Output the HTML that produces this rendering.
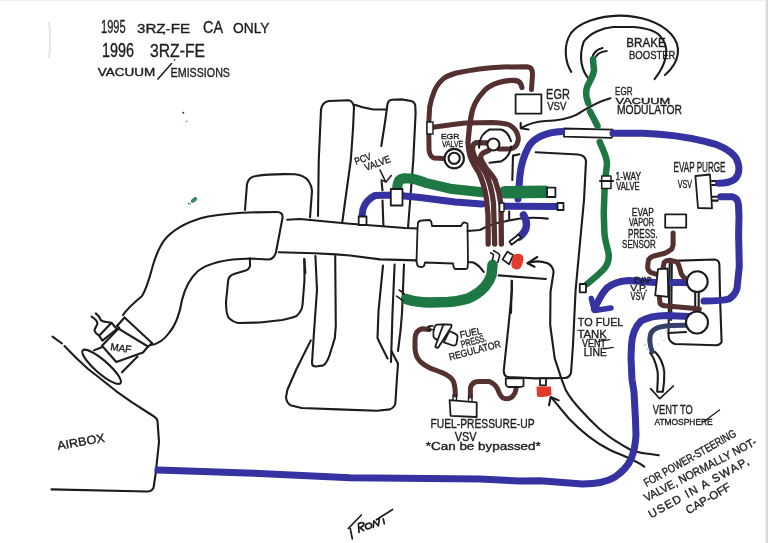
<!DOCTYPE html>
<html><head><meta charset="utf-8">
<style>
html,body{margin:0;padding:0;background:#fff;}
body{width:768px;height:543px;overflow:hidden;}
svg{display:block;}
text{font-family:"Liberation Sans",sans-serif;fill:#1c1c1c;stroke:#1c1c1c;stroke-width:0.35px;}
.k{fill:none;stroke:#1c1c1c;stroke-width:2.1;stroke-linecap:round;stroke-linejoin:round;}
.bl{fill:none;stroke:#3532a2;stroke-width:7;stroke-linecap:round;stroke-linejoin:round;}
.gr{fill:none;stroke:#1e7844;stroke-width:11;stroke-linecap:round;stroke-linejoin:round;}
.br{fill:none;stroke:#553030;stroke-width:5;stroke-linecap:round;stroke-linejoin:round;}
.wb{fill:#fff;stroke:#1c1c1c;stroke-width:1.8;stroke-linejoin:round;}
</style></head>
<body>
<svg width="768" height="543" viewBox="0 0 768 543">
<rect width="768" height="543" fill="#fff"/>
<!-- paper edges -->
<line x1="0" y1="0.5" x2="768" y2="0.5" stroke="#f0f0f0" stroke-width="1"/>
<rect x="765" y="0" width="1" height="543" fill="#f0f0f0"/><rect x="766" y="0" width="2" height="543" fill="#dadada"/>
<path d="M49,22 Q51,40 49,58" stroke="#e4e4e4" stroke-width="2" fill="none"/>

<g fill="#3a8a5a"><circle cx="164" cy="34" r="1"/><circle cx="174.6" cy="60" r="1"/><circle cx="186.8" cy="121.5" r="0.8"/><ellipse cx="194" cy="200" rx="3.6" ry="2" transform="rotate(-40 194 200)"/><circle cx="188.6" cy="203.5" r="0.9"/><circle cx="190.4" cy="204" r="0.8"/></g>
<circle cx="183.3" cy="112.7" r="1" fill="#333"/>
<!-- ========== BLACK OUTLINES ========== -->
<g id="black">
<!-- big curved intake -->
<path class="k" d="M123,315 C127,309 136,301 142,296 C147,288 150,276 153,265 C157,252 161,243 167,237 C177,227 192,220 208,216.5 C228,213 255,212 277,212 Q283,212 282.5,218 L276,252 Q274,259.5 268,259.5 L250,258.5 C228,259 208,263 198,271 C188,280 184,292 182,300 C180,312 176,325 169,333 C164,340 158,344 151,345"/>
<!-- step box below intake -->
<path class="k" d="M250,258.5 L250,266 Q249,270 244,271 L234,274 Q228,276 228,282 L226,302 Q226,317 230,319 Q233,322 238,323 L260,322.5 L282,320 Q292,318 296.5,316 Q302,311 302.5,305 L304.5,280 L304.3,259"/>
<!-- boot -->
<path class="k" d="M124.5,317.5 L152,343"/>
<path class="k" d="M124.5,317.5 L117.5,325.5"/>
<!-- MAF box -->
<path class="k" d="M102,345.8 L118.5,328.6 L148,346.5 L143,352.5 L116.3,362 Z"/>
<path class="k" d="M119.5,328.5 L117,325.5 M148.5,346.5 L152,343"/>
<!-- MAF neck -->
<path class="k" d="M91.6,316.6 C94,318 97,321 97.4,323.2 C97.5,325 95,328 94.5,330 C94.5,332 96,333.5 99.1,335.7 L102.4,340.6 M95.8,313.3 C98,315 100,317.5 100.7,319.9 C101.5,321 103,321.6 106.5,322 L111.5,322.8 L116.9,329 L102.4,340.6 M99.1,335.7 L111.5,322.8"/>
<!-- neck to ellipse -->
<path class="k" d="M94,350.4 L101.6,347.3 M122,372.3 L137.6,356.6"/>
<ellipse class="k" cx="101.6" cy="366.8" rx="25" ry="6.5" transform="rotate(41 101.6 366.8)"/>
<!-- airbox -->
<path class="k" d="M52.5,336.6 L62,343.5 M64.5,346 L76.5,358.2 L88.1,369 L99.7,378 L116.3,391.3 L132.8,402.9 L152.5,415.5 Q157,418 157.5,421 L159,442 L155.6,474 L153.5,488 Q151,492 147,491.5 L51.5,489.4"/>
<!-- left box above intake -->
<path class="k" d="M245,210 L246.9,185 Q248,177 256,176 C265,174.5 285,174 295,174.3 Q304,175 308.5,181 Q312,186 312,191 L310,217.3"/>
<!-- left pillar -->
<path class="k" d="M318,216 L318.75,160 L321,110 Q322,102 329,101 L348.4,100.2 Q353,101 354,107 L353,129 L350.8,160 L342.3,222"/>
<!-- top middle link -->
<path class="k" d="M354.7,104.8 L362.5,107.2 L373.4,109.5 L386.5,109.5"/>
<!-- right pillar -->
<path class="k" d="M381.3,146 L385.2,121 L387.5,104 Q388.5,100 392,99.8 L401.6,99.4 L411,101 Q415,102 415.3,106 L415.6,113.4 L413.3,160 L408,228"/>
<path class="k" d="M381.6,182 L382.5,190.4 M382.5,200.5 L383.4,225.4"/>
<!-- horizontal pipe -->
<path class="k" d="M287.3,219.8 L300,219 L347,223.5 L405,228 L418,228.5"/>
<path class="k" d="M278.8,252.2 L314,253.3 L336,254.4 L350,255.5 L380,259.4 L416.5,260.4"/>
<!-- throttle body -->
<path class="wb" d="M417.5,229 L418,222.5 Q419,220.5 422,220.5 L429,220 Q431,220 431.5,223 L432,226 L461,226 L462.5,223.5 Q463,222.5 465,222.5 L467.5,223.5 L468,262 L467.5,268 Q467,269 465,269 L455,269 Q453.5,268 453.5,266 L453,263.5 L425,262.5 L424,266 Q423.5,267 421,267 L419,266.7 Q417,266 417,263 L416.5,262 Z"/>
<path class="k" d="M467.5,231 L480,230 Q490,224 505.7,221.2 Q525,216 547.7,218.6"/>
<path class="k" d="M468,262.3 L472.5,262.3 Q478,264 483.8,272"/>
<path class="k" d="M509.2,211.6 L509.2,218.6"/>
<path class="k" d="M498.7,275.4 L545.9,279 M511.8,280.7 L511,313"/>
<!-- verticals below pipe -->
<path class="k" d="M304.3,259 L305.4,273"/>
<path class="k" d="M315.4,256 L317,290 L314,332 L312,363 Q312,366.5 316,366.5 L323.3,365.4 Q327,363 329.6,355 L334.8,338.3 L335.8,325.8 L335.2,256"/>
<path class="k" d="M383,265.6 L378.5,311 L377.5,338 L379.8,343 L387.6,358.6"/>
<path class="k" d="M394.6,264.6 L392.5,313 L391,362"/>
<path class="k" d="M404,264.6 L402,313 L400.6,330 L398,351"/>
<path class="k" d="M310.8,340.4 L296.5,369 L287.3,390 L286,397.7 Q287,404 291.25,405.5 L301.7,408 L338,409.4 L377,410.7 L390,409.4 Q395,407 395.4,403 L396.7,382 L398,363.8 L394,356 L391.5,351"/>
<!-- canister -->
<path class="k" d="M512.3,180 L513,155.6 L519.4,154.3 M535.6,152.3 L578,154.5 Q585,155 586,161 L584,200 L575.6,290 L573,345 L571,373 Q569,378 565,378 L536,378.4 L508,377 Q503.5,376 503.8,370 L508.4,326.8 L512,290 L511.8,280.7"/>
<path class="k" d="M527.6,263.2 Q537,259.5 547.7,263.2 Q553,266 553.6,272 L550.5,292 L550.2,325 L554.7,358.4 L561.3,378.3 L565.7,390 C570,398 576,405 582.4,411.8 C588,418 593,423 599.3,428.7 C605,433.5 610,437.5 616.3,441.4 C621,444.5 626,447.5 631,450 C638,452.5 644,453.5 650,454 L658.8,455.3"/>
<path class="k" d="M527.6,263.2 L537.2,257 M527.6,263.2 L534.5,266.7"/>
<!-- arrow to red blob -->
<path class="k" d="M644.3,466.6 C635,460 626,457 610,450 C590,440 575,425 568.4,418 L552.3,398.7 M550.7,397 L549,405.2 M550.7,397 L558.7,400.4"/>
<!-- EGR VSV box -->
<rect class="wb" x="515.6" y="94.4" width="25.8" height="19.2"/>
<!-- egr modulator pointer -->
<path class="k" d="M610.4,98.2 C600,101 590,106 576.7,114.6 C568,119 560,120.8 545,121 C535,121.5 528,124 520.7,128.2 M520.7,128.2 L520.7,123 M520.7,128.2 L528.5,129.5"/>
<!-- brake booster arcs -->
<path class="k" d="M571.25,71.9 C565,62 563,45 571,33 C580,22 600,16 619,15.6 C640,15.5 660,22 671,34 C682,46 680,62 665,75"/>
<path class="k" d="M590,80.2 C582,72 578,58 583.75,41.7 C590,33 602,28 613,27 L633.75,27 C645,28 656,31 660,36 C670,46 668,62 654.6,79.2"/>
<path class="k" d="M592,58.3 Q594,50 602.5,48 M594.5,59.3 Q597,52 606.7,51"/>
<!-- white tube on blue -->
<path class="wb" d="M564,128.5 L612.7,129.7 Q614,133.5 611.5,137.9 L564,136.7 Z"/>
<!-- EVAP purge VSV -->
<path class="wb" d="M695.4,176 L710,174.5 L712,208.3 L698,208 Z"/>
<path class="k" d="M712,181 L717.7,181 M712,185 L717.7,185 M712,196.7 L717.7,196.7 M712,200.6 L717.7,200.6"/>
<!-- EVAP vapor press sensor box -->
<rect class="wb" x="665.2" y="214.4" width="21" height="13.2"/>
<!-- canister 2 outline (right) -->
<path class="k" d="M671.8,260.9 L714.6,259.5 Q719.4,260 719.4,265 L720.1,300 L721.6,342 Q720,345 716,345.2 L675,344 Q668.5,342 668.5,335.3 L669.7,261.6"/>
<path class="k" d="M671.8,263 L671.2,320"/>
<path class="k" d="M695.2,293.3 L695.2,309 M698.7,293.3 L698.7,309"/>
<path class="k" d="M668.5,333 L686,332"/>
<!-- vent tube -->
<path class="k" d="M650.1,353 L655.2,352 C660,357 663.5,365 664.3,372 C664.5,380 664,385 662.8,391.8 L657.2,391.6 L657.5,385 C657.7,381.5 658.2,376 657.5,371 C656,364 653,356 650.1,353"/>
<path class="k" style="stroke-width:1.7" d="M650.6,388.6 L659.7,398.7 L673.4,386"/>
</g>

<!-- ========== BLUE ========== -->
<g id="blue">
<path class="bl" d="M362,216 L363,209 Q366,200 375,195.5 L394,195 L420,197.5 L455,202 L482,204"/>
<path class="bl" d="M505,206.3 L557.5,206.4"/>
<path class="bl" d="M561.7,131.5 C545,132.5 535,137 529,146 C524,155 521,165 520,175 L518,199"/>
<path class="bl" d="M613,133.3 L643,133.3 C665,134 685,136.5 706,141.7 C718,144 730,150 736,158 C740,166 740,174 735,179 C730,183 725,183.2 718.6,183.2"/>
<path class="bl" style="stroke-width:7.5" d="M523.5,215 C526,219 527,224 526,228 C525,232 523,234 519.5,237"/>
<path class="bl" d="M720.6,196.7 L732,196.7 Q738,198 738.5,205 L739,217 L738.6,235 L739.3,266.3 L737,288.4 Q735,295 729,299 C722,301 712,301 704,301"/>
<path class="bl" d="M687.3,282.5 L668.5,282.5 L655.3,282.5 L628.7,280.5 C620,281 613,283 607,288 C602,293 598,301 594.4,309"/>
<path class="bl" d="M591.3,298.5 L594.4,310.5 L611,308" style="stroke-width:5.5"/>
<path class="bl" d="M689,316.5 L666.3,315.4 C657,315.5 648,317 641,321 C635,327 632,335 631.5,345 L631,357.4 L632,379.5 L634,392 L635.5,420 L636,435 C635.5,445 634,452 631,459 C628,466 622,472 615,477 C607,482 595,484 582.4,484 L540,480.8 L520,481 L480,479 L350,477.8 L254,473.3 L157.8,470"/>
</g>

<!-- smudge -->
<path d="M685.2,325.2 L671.4,325.6 C665,326 660,326.5 656,328.5 C652,330.5 650.3,333 650,337 L649.8,341 C650,345 651,348.5 652.1,351.4" fill="none" stroke="#34406a" stroke-width="5" stroke-linecap="round"/>
<g fill="#5a6a9a" opacity="0.7"><circle cx="645" cy="345" r="0.8"/><circle cx="647" cy="349" r="0.7"/><circle cx="661" cy="336" r="0.6"/><circle cx="664" cy="340" r="0.6"/><circle cx="666" cy="331" r="0.7"/><circle cx="658" cy="344" r="0.5"/><circle cx="669" cy="328.5" r="0.8"/><circle cx="674" cy="329" r="0.6"/></g>
<!-- ========== GREEN ========== -->
<g id="green">
<path class="gr" style="stroke-width:10" d="M397,190 L397.5,185 Q398.5,179 404,178.3 L410,178.5 C416,179 420,181 426,183 L450,188.7 L482.5,192.2"/>
<path class="gr" style="stroke-width:12.5" d="M505,192.2 L545,191.8"/>
<path class="gr" style="stroke-width:6.5" d="M593,59.4 L594,70.8 C593,76 591,79 589,83 C586,88 585.5,92 586.5,97 L588.3,103.5 M590,111.5 L594,119 L597.5,126"/>
<path class="gr" style="stroke-width:6.5" d="M599.8,142 L604.8,154 C606,158 607,160 607,164 L604.8,183.3 L603.75,213 L604.4,233 C605,242 608,248 608.8,255.3 C609,262 607,266 603,270 C598,275 592,280 587,284"/>
<path class="gr" style="stroke-width:10.5" d="M492.5,265 L491.5,275 C490,280 488,283 485,286.5 C481,291 476,295 468,298.5 C460,301 455,301.5 448,302 L430,302.5 C420,302.5 414,301.5 406,299"/>
</g>

<!-- ========== BROWN ========== -->
<g id="brown">
<path class="br" d="M531.5,89.5 L532.5,74 Q532.5,67 527,66.8 L503,66.9 C490,67.5 470,70 456.25,73 C450,75 446,76.5 443.75,78.4 C438.5,83 436,87 434.4,91 C431.5,98 430.2,104 429.7,107 L428.7,124 L429,150 Q430,157 434,158 L444,158.5"/>
<path class="br" style="stroke-width:5.3" d="M521.9,87.5 Q521,81 515,80.5 C505,80 492,83 485,90 C477,98 472,108 471,117 L469.3,128.2 L468,142.6 C468.5,150 470,155.6 470,155.6 C472,162 476,168 479,173 C483,181 485,190 486.5,199 L488,215 L488.2,244"/>
<path class="br" style="stroke-width:5.3" d="M487.5,142.8 L476,142.6 Q472.5,144 472.5,149 C473,154 476,159.5 476.5,159.5 C480,165 483,168.6 485.5,173 C489,180 492,190 493.5,203 L494.7,244"/>
<path class="br" style="stroke-width:5.3" d="M489,150.4 L483,153 Q480.4,155 480.6,158.2 C482,162 484,165 486,168 C489,172 492,175 495,180 C498,188 500,196 501,205 L501.4,244"/>
<path class="br" d="M431,127.5 L440,126.3 C450,125 458,123.5 466,123 L492,122.4 Q503,123 507.7,124.3 C512,126 515.5,129.5 517,133 Q519,138 518,141 C517,146 514,148.5 510.3,149 L499,149"/>
<path class="br" d="M429,329.6 L422,328.8 C417,330 415,334 415,340 L415,349 C416,356 417,358 420.3,361.6 C425,366 428,367 431.3,368.7 C438,371 442,372.5 445.4,374.2 C450,377 452,379 453.2,381 C455,385 455.3,390 455.3,395"/>
<path class="br" d="M470.4,396 L470.4,388 Q472,381.5 478.75,381.5 L489.2,381.5 Q495,384 497.5,388.75 Q500,396 503,398 Q508,400 512,397 Q516,393 516.25,387"/>
<path class="br" d="M673.1,233 L673.1,245 L671.8,249.1 Q668,252 664.9,253.3 L653.8,256 Q648.5,258 648.3,261 L647.6,267.1 Q648,271 651,272.6 L658,274.7"/>
<path class="br" d="M662.8,269.2 L664.2,262.3 Q666,260.2 669.7,260.2 L675.9,261.6 Q678.5,263 679.4,267.1 L681.4,274 Q683,277 685.6,278.8 L688.3,281"/>
<path class="br" d="M659.3,296.1 L660,303 Q661,305.5 664.9,305.8 L681.4,307.2 L695.2,308.5 L699.4,309.2"/>
</g>

<!-- ========== WHITE COMPONENTS ON TOP ========== -->
<g id="parts">
<!-- brown connector at left loop -->
<rect class="wb" x="427" y="122" width="6" height="12" style="stroke-width:1.4"/>
<!-- egr valve small circle -->
<circle class="k" cx="454.2" cy="158.6" r="9.7" style="fill:#fff"/>
<circle class="k" cx="454.2" cy="158.3" r="5.6"/>
<!-- egr valve big -->
<path class="k" d="M479,147.8 C479,140 481,134 489.5,129.5 L501.2,129.5 C506,131 509,134 511,141.25 M511,146.5 C510.5,152 509,157 501.2,161.4 L489.5,162.7"/>
<circle class="k" cx="493.4" cy="144.5" r="6" style="fill:#fff"/>
<!-- pcv connector -->
<rect class="wb" x="390.8" y="189" width="11.7" height="16.5"/>
<!-- blue end box at pcv -->
<rect class="wb" x="358.7" y="216.5" width="7.8" height="8.5"/>
<!-- white connector on blue (between tubes) -->
<rect class="wb" x="499.6" y="203" width="4.4" height="8.6" style="stroke-width:1.4"/>
<!-- blue end box right -->
<rect class="wb" x="557.5" y="203" width="6" height="7"/>
<!-- green end box -->
<rect class="wb" x="547" y="187.7" width="8.4" height="9.3"/>
<!-- blue curved end connector -->
<path class="wb" d="M509.5,241.5 L518.5,234.5 L521,237.5 L511.5,244.8 Z"/>
<!-- 1-way valve -->
<rect class="wb" x="601.7" y="176" width="9.3" height="12.5" style="stroke-width:1.5"/>
<path class="k" d="M600,181 L613,181"/>
<!-- green connector at canister -->
<rect class="wb" x="579.8" y="284" width="6.2" height="8.3"/>
<path class="k" style="stroke-width:1.6" d="M399.2,290 L404.4,293.9 M396.6,296.1 L403,300.6"/>
<!-- claws -->
<path class="k" style="stroke-width:1.6" d="M490.6,252.8 L493.6,254.6 L492.4,260 M493.6,250.7 L498.4,253.4 Q500,255 499.6,256 L497.8,262.5"/>
<!-- small box near red -->
<path class="wb" d="M502.6,259.4 L507.4,251.6 L513.3,255.2 L509.1,264.2 Z"/>
<!-- red blob -->
<path d="M513,255.5 Q517,252.5 521.5,254.5 Q524.5,257 523,262 Q522,266 520,268.5 Q516,270.5 512.5,268 Q510.5,265 512,261 Z" fill="#e23a2c"/>
<!-- sensor small bits: evap vp vsv box -->
<path class="wb" d="M658,269.2 L667.6,268.5 L668.3,296.8 L655.2,295.4 Z"/>
<!-- circles right -->
<circle class="k" cx="697.3" cy="281.6" r="10.4" style="fill:#fff"/>
<circle class="k" cx="697" cy="322.5" r="11" style="fill:#fff"/>
<!-- canister bottom connectors -->
<path class="wb" d="M505.8,378.3 L523.5,378.3 L523.5,386 Q522,387 519,387 L508,387 Q505.8,386 505.8,384 Z"/>
<rect class="wb" x="540" y="378.3" width="6" height="7"/>
<path d="M536.5,386.5 L551,386.5 L551.5,395 Q545,398 537,396.5 Z" fill="#e23a2c"/>
<!-- FPU VSV box -->
<path class="wb" d="M449.6,400.2 L476.7,402.3 L476.7,417 L450.6,415.8 Z"/>
<path class="k" style="stroke-width:1.4" d="M453,395 L453,400 M456.5,395 L456.5,400 M468.5,396 L468.5,401 M472,396 L472,401"/>
<!-- fuel press regulator -->
<path class="wb" d="M437,324.6 L444,324.5 L440,339.6 Q437,340.5 435,338.5 L433.5,336.8 Q433,332 434,329 Q435,325 437,324.6 Z"/>
<path class="wb" d="M449.4,331 L455,333.6 Q458,335 457.5,337.5 L456.3,344.3 Q455,346 453,345.5 L443.8,342.4 Z"/>
<path class="wb" d="M444,324.3 L451.3,324.6 Q452,326 451,327.5 L438.1,347.7 Q436,348 435.3,346.5 L443,325.5 Z"/>
<path class="k" style="stroke-width:1.5" d="M427.5,327 Q430,325.5 433,326 M427.5,330 Q431,329.5 434,329.5"/>
</g>

<!-- ========== TEXT ========== -->
<g id="text" style="opacity:0.995">
<g style="stroke-width:0.25px">
<text x="101" y="33" font-size="18" textLength="24.6" lengthAdjust="spacingAndGlyphs">1995</text>
<text x="137" y="33" font-size="13" textLength="53" lengthAdjust="spacingAndGlyphs">3RZ-FE</text>
<text x="203" y="33" font-size="16.5" textLength="20" lengthAdjust="spacingAndGlyphs">CA</text>
<text x="233" y="33" font-size="15" textLength="36.5" lengthAdjust="spacingAndGlyphs">ONLY</text>
<text x="102" y="56.5" font-size="20.5" textLength="32" lengthAdjust="spacingAndGlyphs">1996</text>
<text x="150" y="56.5" font-size="18" textLength="55" lengthAdjust="spacingAndGlyphs">3RZ-FE</text>
<text x="97.7" y="76" font-size="11" textLength="57.5" lengthAdjust="spacingAndGlyphs">VACUUM</text>
<text x="170.6" y="77" font-size="13.5" textLength="59.4" lengthAdjust="spacingAndGlyphs">EMISSIONS</text>
</g>
<path class="k" style="stroke-width:1.5" d="M157.9,79.1 L171.6,63.6"/>
<text x="546.1" y="99.4" font-size="14" textLength="23.7" lengthAdjust="spacingAndGlyphs">EGR</text>
<text x="547.2" y="110.4" font-size="11" textLength="19.3" lengthAdjust="spacingAndGlyphs">VSV</text>
<text x="615" y="95" font-size="11" textLength="17.5" lengthAdjust="spacingAndGlyphs">EGR</text>
<text x="615.6" y="104" font-size="8.5" textLength="54.7" lengthAdjust="spacingAndGlyphs">VACUUM</text>
<text x="617" y="114" font-size="12" textLength="65" lengthAdjust="spacingAndGlyphs">MODULATOR</text>
<text x="626.3" y="46.8" font-size="12" textLength="39.5" lengthAdjust="spacingAndGlyphs">BRAKE</text>
<text x="629" y="59.3" font-size="11" textLength="46.5" lengthAdjust="spacingAndGlyphs">BOOSTER</text>
<text x="440.9" y="138.5" font-size="8" textLength="18.6" lengthAdjust="spacingAndGlyphs">EGR</text>
<text x="442" y="146.6" font-size="9" textLength="21" lengthAdjust="spacingAndGlyphs">VALVE</text>
<text x="0" y="0" font-size="10" textLength="17" lengthAdjust="spacingAndGlyphs" transform="translate(356,165) rotate(-20)">PCV</text>
<text x="0" y="0" font-size="10" textLength="27" lengthAdjust="spacingAndGlyphs" transform="translate(366,171) rotate(-20)">VALVE</text>
<path class="k" style="stroke-width:1.6" d="M380,170 L385.5,181.5 M381.2,180 L386,182 L391.3,175.6"/>
<text x="615.6" y="180.4" font-size="10" textLength="25.4" lengthAdjust="spacingAndGlyphs">1-WAY</text>
<text x="616.2" y="190.1" font-size="10" textLength="23.5" lengthAdjust="spacingAndGlyphs">VALVE</text>
<text x="673.5" y="172" font-size="14" textLength="52" lengthAdjust="spacingAndGlyphs">EVAP PURGE</text>
<text x="677.7" y="187.5" font-size="11" textLength="14.3" lengthAdjust="spacingAndGlyphs">VSV</text>
<text x="631.8" y="215.9" font-size="11" textLength="22" lengthAdjust="spacingAndGlyphs">EVAP</text>
<text x="629" y="226.2" font-size="10" textLength="25" lengthAdjust="spacingAndGlyphs">VAPOR</text>
<text x="628.1" y="238" font-size="12" textLength="29.5" lengthAdjust="spacingAndGlyphs">PRESS.</text>
<text x="622.1" y="248.1" font-size="11.5" textLength="33.7" lengthAdjust="spacingAndGlyphs">SENSOR</text>
<text x="634" y="282.5" font-size="8.5" textLength="17.5" lengthAdjust="spacingAndGlyphs">EVAP</text>
<text x="630.2" y="290.9" font-size="9.5" textLength="17.4" lengthAdjust="spacingAndGlyphs">V.P.</text>
<text x="630.5" y="299.6" font-size="10" textLength="15" lengthAdjust="spacingAndGlyphs">VSV</text>
<text x="577.8" y="325.8" font-size="11.5" textLength="45.6" lengthAdjust="spacingAndGlyphs">TO FUEL</text>
<text x="577.4" y="337.8" font-size="11" textLength="29.4" lengthAdjust="spacingAndGlyphs">TANK</text>
<text x="582" y="347" font-size="10" textLength="24" lengthAdjust="spacingAndGlyphs">VENT</text>
<path class="k" style="stroke-width:1.3" d="M598.5,341.4 L609.6,339.6 M604,348.8 L613.2,347.4"/>
<text x="583.8" y="356.2" font-size="10.5" textLength="23" lengthAdjust="spacingAndGlyphs">LINE</text>
<text x="0" y="0" font-size="9.5" textLength="22.5" lengthAdjust="spacingAndGlyphs" transform="translate(460.4,338.3) rotate(-12)">FUEL</text>
<text x="0" y="0" font-size="10" textLength="26" lengthAdjust="spacingAndGlyphs" transform="translate(462,348) rotate(-16)">PRESS.</text>
<text x="0" y="0" font-size="10" textLength="53" lengthAdjust="spacingAndGlyphs" transform="translate(450,360.5) rotate(-15)">REGULATOR</text>
<text x="430.5" y="427.5" font-size="12.5" textLength="104" lengthAdjust="spacingAndGlyphs">FUEL-PRESSURE-UP</text>
<text x="454.7" y="440.5" font-size="13.5" textLength="22" lengthAdjust="spacingAndGlyphs">VSV</text>
<text x="425.8" y="450.3" font-size="10.5" textLength="115" lengthAdjust="spacingAndGlyphs">*Can be bypassed*</text>
<text x="652.8" y="414" font-size="12.5" textLength="40" lengthAdjust="spacingAndGlyphs">VENT TO</text>
<text x="654.4" y="424.5" font-size="9" textLength="58.3" lengthAdjust="spacingAndGlyphs">ATMOSPHERE</text>
<path class="k" style="stroke-width:1.3" d="M703.3,422 L719.5,410"/>
<text x="0" y="0" font-size="11.5" textLength="104" lengthAdjust="spacingAndGlyphs" transform="translate(646.5,487) rotate(-29.5)">FOR POWER-STEERING</text>
<text x="0" y="0" font-size="11.5" textLength="125" lengthAdjust="spacingAndGlyphs" transform="translate(646.5,502) rotate(-27.5)">VALVE, NORMALLY NOT-</text>
<text x="0" y="0" font-size="11.5" textLength="113" lengthAdjust="spacing" transform="translate(651,518.5) rotate(-29)">USED IN A SWAP,</text>
<text x="0" y="0" font-size="11.5" textLength="50" lengthAdjust="spacing" transform="translate(688.6,514.5) rotate(-30.5)">CAP-OFF</text>
<text x="0" y="0" font-size="12" textLength="48" lengthAdjust="spacingAndGlyphs" transform="translate(58,450) rotate(-10)">AIRBOX</text>
<text x="0" y="0" font-size="10" textLength="21" lengthAdjust="spacingAndGlyphs" transform="translate(110,350) rotate(8)">MAF</text>
<path class="k" style="stroke-width:1.7" d="M350.3,528.5 L352.3,538.8 M348.3,528.5 L361.4,515 M359,532.5 L358.4,523.8 Q362,521.8 363.8,523.2 Q364,526.5 359.5,527.5 L363.8,530.5 M373.3,527.5 L373.8,520.8 L378.3,525.8 L379.3,519.3 M383.2,518.8 L384.3,523.8 M376.4,519.8 L392.6,509.5"/>
<ellipse class="k" style="stroke-width:1.7" cx="368.5" cy="526" rx="3.2" ry="2.6" transform="rotate(-20 368.5 526)"/>
</g>
</svg>
</body></html>
